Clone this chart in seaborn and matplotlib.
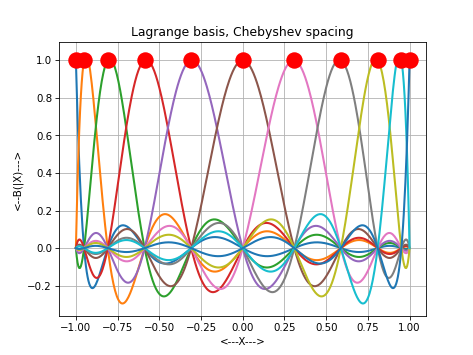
import numpy as np
import pandas as pd
import seaborn as sns
import matplotlib.pyplot as plt

# noduri (Chebyshev)
nodes = [-1.0, -0.951, -0.809, -0.588, -0.309, 0.0, 0.309, 0.588, 0.809, 0.951, 1.0]
node_vals = [1.0] * len(nodes)

title = 'Lagrange basis, Chebyshev spacing'
xlabel = '<---X--->'
ylabel = '<--B(|X)--->'

# polinoamele de baza Lagrange evaluate pe o grila
xs = np.linspace(-1.0, 1.0, 401)
rows = []
for i, xi in enumerate(nodes):
    b = np.ones_like(xs)
    for j, xj in enumerate(nodes):
        if j != i:
            b *= (xs - xj) / (xi - xj)
    rows.append(pd.DataFrame({'x': xs, 'b': b, 'i': i}))
df = pd.concat(rows, ignore_index=True)

fig, ax = plt.subplots(figsize=(6.4, 4.8), dpi=74)

pal = sns.color_palette('tab10', len(nodes))
sns.lineplot(data=df, x='x', y='b', hue='i', palette=pal, linewidth=2,
             legend=False, ax=ax, sort=False)
sns.scatterplot(x=nodes, y=node_vals, color='red', s=16**2, linewidth=0,
                zorder=3, ax=ax)

ax.grid(True)
ax.set_title(title)
ax.set_xlabel(xlabel)
ax.set_ylabel(ylabel)

plt.savefig('out.png', dpi=74)
